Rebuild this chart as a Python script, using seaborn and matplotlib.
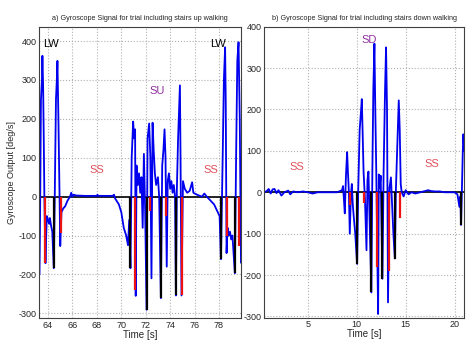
"""Gyroscope signal for stairs up / stairs down walking trials."""
import matplotlib
matplotlib.use("Agg")
import matplotlib.pyplot as plt
import numpy as np
import pandas as pd
import seaborn as sns

# a) stairs up trial: time [s] and gyroscope output [deg/s]
up_time = [63.3, 63.35, 63.42, 63.5, 63.54, 63.6, 63.65, 63.7, 63.79, 63.85,
           63.9, 64.0, 64.1, 64.15, 64.25, 64.35, 64.47, 64.55, 64.65, 64.72,
           64.77, 64.85, 64.92, 65.0, 65.04, 65.1, 65.25, 65.4, 65.6, 65.8,
           65.9, 66.0, 66.1, 66.3, 67.0, 68.0, 68.05, 68.1, 69.3, 69.4,
           69.5, 69.6, 69.8, 70.0, 70.2, 70.4, 70.55, 70.65, 70.75, 70.85,
           70.97, 71.05, 71.13, 71.18, 71.25, 71.35, 71.45, 71.55, 71.65, 71.75,
           71.85, 71.95, 72.07, 72.15, 72.28, 72.38, 72.47, 72.56, 72.65, 72.75,
           72.85, 73.0, 73.1, 73.24, 73.35, 73.45, 73.54, 73.62, 73.72, 73.8,
           73.9, 74.0, 74.1, 74.2, 74.3, 74.4, 74.47, 74.55, 74.65, 74.8,
           74.85, 74.93, 75.05, 75.2, 75.4, 75.6, 75.8, 75.9, 76.2, 76.6,
           76.8, 77.0, 77.3, 77.6, 77.9, 78.05, 78.16, 78.3, 78.4, 78.5,
           78.55, 78.62, 78.7, 78.8, 78.9, 79.0, 79.1, 79.3, 79.4, 79.5,
           79.6, 79.7, 79.8]
up_gyro = [-200, -50, 250, 300, 362, 280, 150, 0, -171, -100,
           -50, -60, -70, -55, -75, -90, -184, 0, 250, 300,
           349, 200, 50, -127, -90, -40, -30, -25, -10, 0,
           10, 0, 5, 3, 2, 2, 5, 2, 2, 5,
           -5, -10, -20, -40, -80, -100, -125, -60, -184, 100,
           193, 150, 173, -255, 80, 30, 60, 10, 50, -80,
           110, -30, -291, 150, 188, 100, -210, 190, 120, 60,
           30, 50, 0, -261, 80, 120, 173, 100, -180, 40,
           60, 20, 40, 10, 30, 0, -254, 20, 150, 286,
           100, -254, 40, 20, 10, 15, 37, 10, 5, 0,
           8, 0, -10, -20, -40, -50, -161, 100, 300, 384,
           250, -145, -80, -100, -90, -110, -100, -197, 100, 350,
           397, 200, -170]
up_black_t = [64.47, 70.75, 72.07, 73.24, 74.47, 78.16, 79.3]
up_black_v = [-184, -184, -291, -261, -254, -161, -197]
up_red_t = [63.79, 65.04, 71.1, 72.39, 73.7, 74.93, 78.62, 79.66]
up_red_v = [-171, -93, -240, -36, -49, -254, -101, -127]

# b) stairs down trial
down_time = [0.55, 0.8, 1.0, 1.2, 1.4, 1.6, 1.8, 2.0, 2.3, 2.6,
             3.0, 3.2, 3.5, 4.0, 4.5, 5.0, 5.5, 6.0, 7.0, 8.0,
             8.5, 8.6, 8.7, 8.78, 8.9, 9.02, 9.1, 9.2, 9.29, 9.4,
             9.5, 9.6, 9.7, 9.85, 10.04, 10.15, 10.3, 10.45, 10.52, 10.6,
             10.7, 10.85, 11.0, 11.1, 11.2, 11.3, 11.5, 11.6, 11.7, 11.81,
             11.9, 12.0, 12.09, 12.19, 12.26, 12.35, 12.45, 12.63, 12.75, 12.9,
             13.0, 13.1, 13.2, 13.35, 13.5, 13.6, 13.75, 13.9, 14.0, 14.2,
             14.3, 14.4, 14.5, 14.6, 14.8, 15.0, 15.3, 15.6, 16.0, 16.5,
             17.0, 17.3, 17.6, 18.0, 18.5, 19.0, 20.0, 20.3, 20.5, 20.6,
             20.67, 20.75, 20.85, 20.9, 21.0]
down_gyro = [0, 3, 8, -3, 7, 8, -2, 5, -8, 0,
             4, -5, 2, 0, 2, 0, -3, 0, 0, 0,
             5, 15, -20, -51, 40, 97, 50, 0, -100, -10,
             20, -30, -60, -100, -173, 0, 150, 200, 225, 150,
             50, -20, -140, 30, 50, -50, -242, 50, 250, 359,
             200, 50, -120, -294, 43, 10, 40, -209, 50, 250,
             350, 200, -266, 10, 36, -20, -100, -160, 0, 150,
             222, 150, 20, 0, -10, 5, -5, 0, -3, 0,
             3, 5, 3, 2, 2, 0, 0, -5, -35, -10,
             -79, 0, 100, 140, 100]
down_black_t = [10.04, 11.5, 12.63, 13.9, 20.67]
down_black_v = [-173, -242, -209, -160, -79]
down_red_t = [9.3, 10.76, 12.09, 13.28, 14.47]
down_red_v = [-30, -27, -181, -189, -63]

titles = ["a) Gyroscope Signal for trial including stairs up walking",
          "b) Gyroscope Signal for trial including stairs down walking"]

sns.set_style("whitegrid", {"grid.linestyle": ":", "grid.color": "#b0b0b0",
                            "axes.edgecolor": "#404040",
                            "xtick.direction": "in", "ytick.direction": "in"})
plt.rcParams["font.family"] = ["Liberation Sans", "DejaVu Sans"]
plt.rcParams["axes.unicode_minus"] = False

fig = plt.figure(figsize=(4.74, 3.56), dpi=100)
ax1 = fig.add_axes([0.0833, 0.1067, 0.4251, 0.8173])
ax2 = fig.add_axes([0.5576, 0.1076, 0.4219, 0.8174])

panels = [
    (ax1, up_time, up_gyro, up_black_t, up_black_v, up_red_t, up_red_v),
    (ax2, down_time, down_gyro, down_black_t, down_black_v,
     down_red_t, down_red_v),
]
for ax, t, g, bt, bv, rt, rv in panels:
    df = pd.DataFrame({"t": t, "g": g})
    ax.axhline(0, color="black", lw=1.2, zorder=1)
    sns.lineplot(data=df, x="t", y="g", sort=False, estimator=None,
                 color="#0000ee", lw=1.3, ax=ax, zorder=2)
    ax.vlines(bt, bv, 0, color="black", lw=1.6, zorder=3)
    ax.vlines(rt, rv, 0, color="#ee1111", lw=1.6, zorder=3)
    ax.tick_params(labelsize=6.5, length=2, pad=2)
    ax.set_xlabel("Time [s]", fontsize=7, labelpad=0)
    ax.set_ylabel("")
    for s in ax.spines.values():
        s.set_linewidth(0.8)

ax1.set_xlim(63.3, 79.8)
ax1.set_ylim(-312, 436)
ax1.set_xticks(np.arange(64, 80, 2))
ax1.set_yticks(np.arange(-300, 401, 100))
ax1.set_ylabel("Gyroscope Output [deg/s]", fontsize=6.5, labelpad=2)
ax1.set_title(titles[0], fontsize=5.2, pad=5)

ax2.set_xlim(0.55, 21.0)
ax2.set_ylim(-303, 400)
ax2.set_xticks([5, 10, 15, 20])
ax2.set_yticks(np.arange(-300, 401, 100))
ax2.set_title(titles[1], fontsize=5.2, pad=5)

# phase annotations
ax1.text(64.25, 385, "LW", color="black", fontsize=8, ha="center")
ax1.text(77.9, 385, "LW", color="black", fontsize=8, ha="center")
ax1.text(68.0, 60, "SS", color="#e0505a", fontsize=8, ha="center")
ax1.text(77.3, 60, "SS", color="#e0505a", fontsize=8, ha="center")
ax1.text(72.9, 265, "SU", color="#9030a0", fontsize=8, ha="center")
ax2.text(3.9, 55, "SS", color="#e0505a", fontsize=8, ha="center")
ax2.text(17.7, 60, "SS", color="#e0505a", fontsize=8, ha="center")
ax2.text(11.3, 360, "SD", color="#9030a0", fontsize=8, ha="center")

fig.savefig("out.png", dpi=100)
